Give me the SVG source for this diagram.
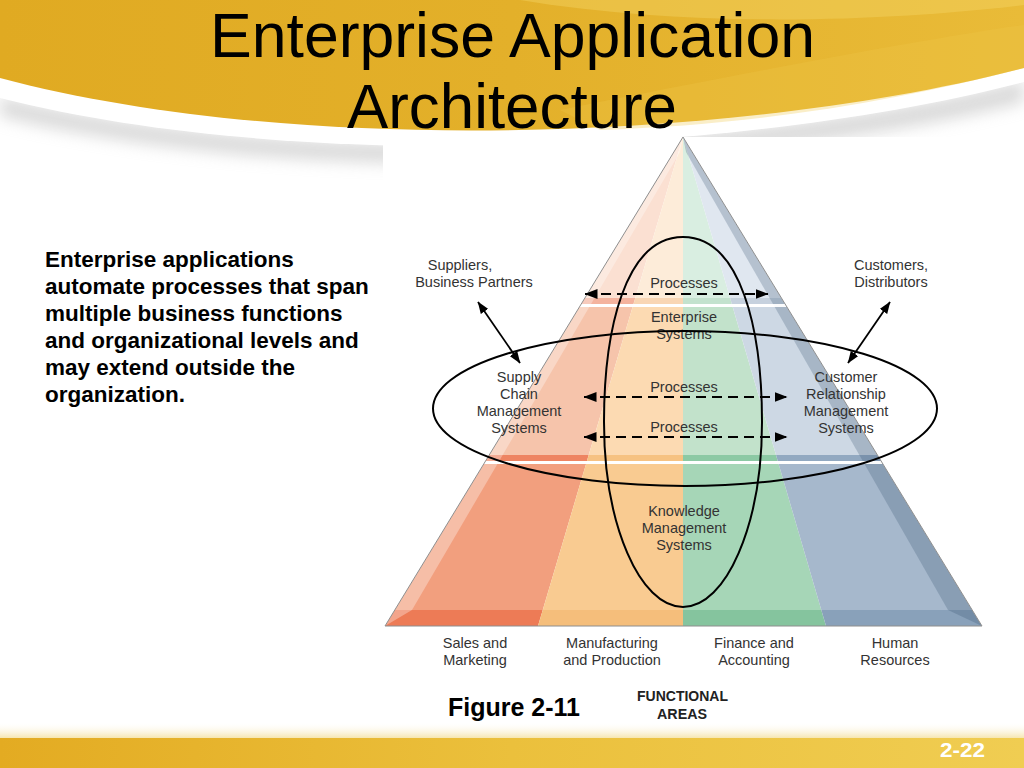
<svg xmlns="http://www.w3.org/2000/svg" width="1024" height="768" viewBox="0 0 1024 768">
<defs>
<style>
.t{font-family:"Liberation Sans",Arial,sans-serif}
.tn{font-family:"Liberation Sans Narrow","Arial Narrow","Liberation Sans",Arial,sans-serif}
.lbl{font-family:"Liberation Sans",Arial,sans-serif;font-size:14.5px;fill:#333;text-anchor:middle}
.para{font-family:"Liberation Sans",Arial,sans-serif;font-size:22.5px;font-weight:bold;fill:#000}
.dash{stroke:#000;stroke-width:2;stroke-dasharray:10 6;fill:none}
.solid{stroke:#000;stroke-width:1.8;fill:none}
.ell{stroke:#000;stroke-width:2;fill:none}
</style>
<linearGradient id="gold" x1="0" y1="0" x2="1" y2="0">
<stop offset="0" stop-color="#e0aa22"/>
<stop offset="0.5" stop-color="#e3b02a"/>
<stop offset="1" stop-color="#e9bb38"/>
</linearGradient>
<linearGradient id="goldB" x1="0" y1="0" x2="1" y2="0">
<stop offset="0" stop-color="#e3ab22"/>
<stop offset="0.5" stop-color="#ebc03c"/>
<stop offset="1" stop-color="#f0cd52"/>
</linearGradient>
<linearGradient id="paleB" x1="0" y1="0" x2="0" y2="1">
<stop offset="0" stop-color="#ffffff" stop-opacity="0"/>
<stop offset="1" stop-color="#f6e6b0"/>
</linearGradient>
<filter id="blur" x="-10%" y="-50%" width="120%" height="200%"><feGaussianBlur stdDeviation="8"/></filter>
<clipPath id="pyr"><polygon points="683,137 385,626 982,626"/></clipPath>
<clipPath id="t1"><rect x="380" y="130" width="610" height="168"/></clipPath>
<clipPath id="t1s"><rect x="380" y="298" width="610" height="6"/></clipPath>
<clipPath id="t2"><rect x="380" y="307" width="610" height="148"/></clipPath>
<clipPath id="t2s"><rect x="380" y="455" width="610" height="6"/></clipPath>
<clipPath id="t3"><rect x="380" y="464" width="610" height="146"/></clipPath>
<clipPath id="t3s"><rect x="380" y="610" width="610" height="17"/></clipPath>
<polygon id="wO" points="683,137 385,626 538,626"/>
<polygon id="wY" points="683,137 538,626 683,626"/>
<polygon id="wG" points="683,137 683,626 826,626"/>
<polygon id="wB" points="683,137 826,626 982,626"/>
<marker id="ah" viewBox="0 0 13 10" refX="12.5" refY="5" markerWidth="13" markerHeight="10" markerUnits="userSpaceOnUse" orient="auto-start-reverse">
<path d="M0,0 L13,5 L0,10 Z" fill="#000"/>
</marker>
<marker id="ah2" viewBox="0 0 12 9" refX="11.5" refY="4.5" markerWidth="12" markerHeight="9" markerUnits="userSpaceOnUse" orient="auto-start-reverse">
<path d="M0,0 L12,4.5 L0,9 Z" fill="#000"/>
</marker>
</defs>

<rect width="1024" height="768" fill="#fff"/>

<g id="header">
<path d="M0,96 C300,172 750,152 1024,80 L1024,102 C750,172 300,190 0,116 Z" fill="#b4b4b4" opacity="0.5" filter="url(#blur)"/>
<path d="M0,0 H1024 V82 C750,154 300,174 0,98 Z" fill="#fff"/>
<path d="M0,0 H1024 V68 C750,140 300,158 0,78 Z" fill="url(#gold)"/>
<path d="M520,0 C700,30 900,20 1024,5 V0 Z" fill="#f6d66a" opacity="0.4"/>
<path d="M560,110 C760,70 920,40 1024,25 V68 C900,100 760,125 600,130 Z" fill="#f0c64a" opacity="0.3"/>
<text class="tn" x="210" y="57" font-size="63" textLength="605" lengthAdjust="spacingAndGlyphs" fill="#000">Enterprise Application</text>
<text class="tn" x="347" y="128" font-size="63" textLength="330" lengthAdjust="spacingAndGlyphs" fill="#000">Architecture</text>
</g>

<g id="footer">
<rect x="0" y="722" width="1024" height="16" fill="url(#paleB)"/>
<rect x="0" y="738" width="1024" height="30" fill="url(#goldB)"/>
<text class="tn" x="940" y="757" font-size="20" font-weight="bold" fill="#fff" textLength="45" lengthAdjust="spacingAndGlyphs">2-22</text>
</g>

<g id="description">
<text class="para" x="45" y="267">Enterprise applications</text>
<text class="para" x="45" y="294">automate processes that span</text>
<text class="para" x="45" y="321">multiple business functions</text>
<text class="para" x="45" y="348">and organizational levels and</text>
<text class="para" x="45" y="375">may extend outside the</text>
<text class="para" x="45" y="402">organization.</text>
</g>

<rect x="383" y="137" width="607" height="553" fill="#fff"/>

<g id="pyramid">
<g clip-path="url(#pyr)">
<g clip-path="url(#t1)">
<use href="#wO" fill="#fbe0d2"/><use href="#wY" fill="#fdecd9"/><use href="#wG" fill="#d9eee1"/><use href="#wB" fill="#e0e7f0"/>
</g>
<g clip-path="url(#t1s)">
<use href="#wO" fill="#f4b39e"/><use href="#wY" fill="#f9d6b4"/><use href="#wG" fill="#c3e2ce"/><use href="#wB" fill="#c6d1de"/>
</g>
<g clip-path="url(#t2)">
<use href="#wO" fill="#f6c4ab"/><use href="#wY" fill="#fcdab2"/><use href="#wG" fill="#c2e2cb"/><use href="#wB" fill="#cdd8e4"/>
</g>
<g clip-path="url(#t2s)">
<use href="#wO" fill="#ee8462"/><use href="#wY" fill="#f6c282"/><use href="#wG" fill="#8cc9a4"/><use href="#wB" fill="#92a9c1"/>
</g>
<g clip-path="url(#t3)">
<use href="#wO" fill="#f29f7e"/><use href="#wY" fill="#f9cb91"/><use href="#wG" fill="#a6d6b7"/><use href="#wB" fill="#a6b8cc"/>
</g>
<g clip-path="url(#t3s)">
<use href="#wO" fill="#ed7b56"/><use href="#wY" fill="#f5be7b"/><use href="#wG" fill="#85c49e"/><use href="#wB" fill="#89a1ba"/>
</g>
<polygon points="683,137 385,626 412,610 680,152" fill="#fff" opacity="0.32"/>
<polygon points="683,137 982,626 948,610 686,152" fill="#2c4a6a" opacity="0.24"/>
<rect x="380" y="304" width="610" height="3" fill="#fff" opacity="0.9"/>
<rect x="380" y="461" width="610" height="3" fill="#fff" opacity="0.9"/>
</g>
<polygon points="683,137 385,626 982,626" fill="none" stroke="#8e8e8e" stroke-width="1"/>
</g>

<g id="connectors">
<line class="dash" x1="585" y1="294" x2="768" y2="294" marker-start="url(#ah)" marker-end="url(#ah)"/>
<line class="dash" x1="584" y1="397" x2="787" y2="397" marker-start="url(#ah)" marker-end="url(#ah)"/>
<line class="dash" x1="584" y1="437" x2="787" y2="437" marker-start="url(#ah)" marker-end="url(#ah)"/>
<line class="solid" x1="478" y1="302" x2="520" y2="363" marker-start="url(#ah2)" marker-end="url(#ah2)"/>
<line class="solid" x1="890" y1="302" x2="848" y2="363" marker-start="url(#ah2)" marker-end="url(#ah2)"/>
</g>

<g id="enterprise-systems">
<path class="ell" d="M683,237 C625,237 604,330 604,422 C604,525 640,607 683,607 C726,607 762,525 762,422 C762,330 741,237 683,237 Z"/>
<text class="lbl" x="684" y="322">Enterprise</text>
<text class="lbl" x="684" y="339">Systems</text>
</g>

<g id="scm-crm-ring">
<ellipse class="ell" cx="685" cy="408.5" rx="252" ry="77.5"/>
</g>

<g id="processes-labels">
<text class="lbl" x="684" y="288">Processes</text>
<text class="lbl" x="684" y="392">Processes</text>
<text class="lbl" x="684" y="432">Processes</text>
</g>

<g id="suppliers">
<text class="lbl" x="460" y="270">Suppliers,</text>
<text class="lbl" x="474" y="287">Business Partners</text>
</g>

<g id="customers">
<text class="lbl" x="891" y="270">Customers,</text>
<text class="lbl" x="891" y="287">Distributors</text>
</g>

<g id="scm">
<text class="lbl" x="519" y="382">Supply</text>
<text class="lbl" x="519" y="399">Chain</text>
<text class="lbl" x="519" y="416">Management</text>
<text class="lbl" x="519" y="433">Systems</text>
</g>

<g id="crm">
<text class="lbl" x="846" y="382">Customer</text>
<text class="lbl" x="846" y="399">Relationship</text>
<text class="lbl" x="846" y="416">Management</text>
<text class="lbl" x="846" y="433">Systems</text>
</g>

<g id="kms">
<text class="lbl" x="684" y="516">Knowledge</text>
<text class="lbl" x="684" y="533">Management</text>
<text class="lbl" x="684" y="550">Systems</text>
</g>

<g id="functional-areas">
<text class="lbl" x="475" y="648">Sales and</text>
<text class="lbl" x="475" y="665">Marketing</text>
<text class="lbl" x="612" y="648">Manufacturing</text>
<text class="lbl" x="612" y="665">and Production</text>
<text class="lbl" x="754" y="648">Finance and</text>
<text class="lbl" x="754" y="665">Accounting</text>
<text class="lbl" x="895" y="648">Human</text>
<text class="lbl" x="895" y="665">Resources</text>
<text class="tn" x="637" y="701" font-size="14" font-weight="bold" fill="#222" textLength="91" lengthAdjust="spacingAndGlyphs">FUNCTIONAL</text>
<text class="tn" x="657" y="719" font-size="14" font-weight="bold" fill="#222" textLength="50" lengthAdjust="spacingAndGlyphs">AREAS</text>
</g>

<g id="caption">
<text class="tn" x="448" y="716" font-size="25" font-weight="bold" fill="#000" textLength="132" lengthAdjust="spacingAndGlyphs">Figure 2-11</text>
</g>
</svg>
